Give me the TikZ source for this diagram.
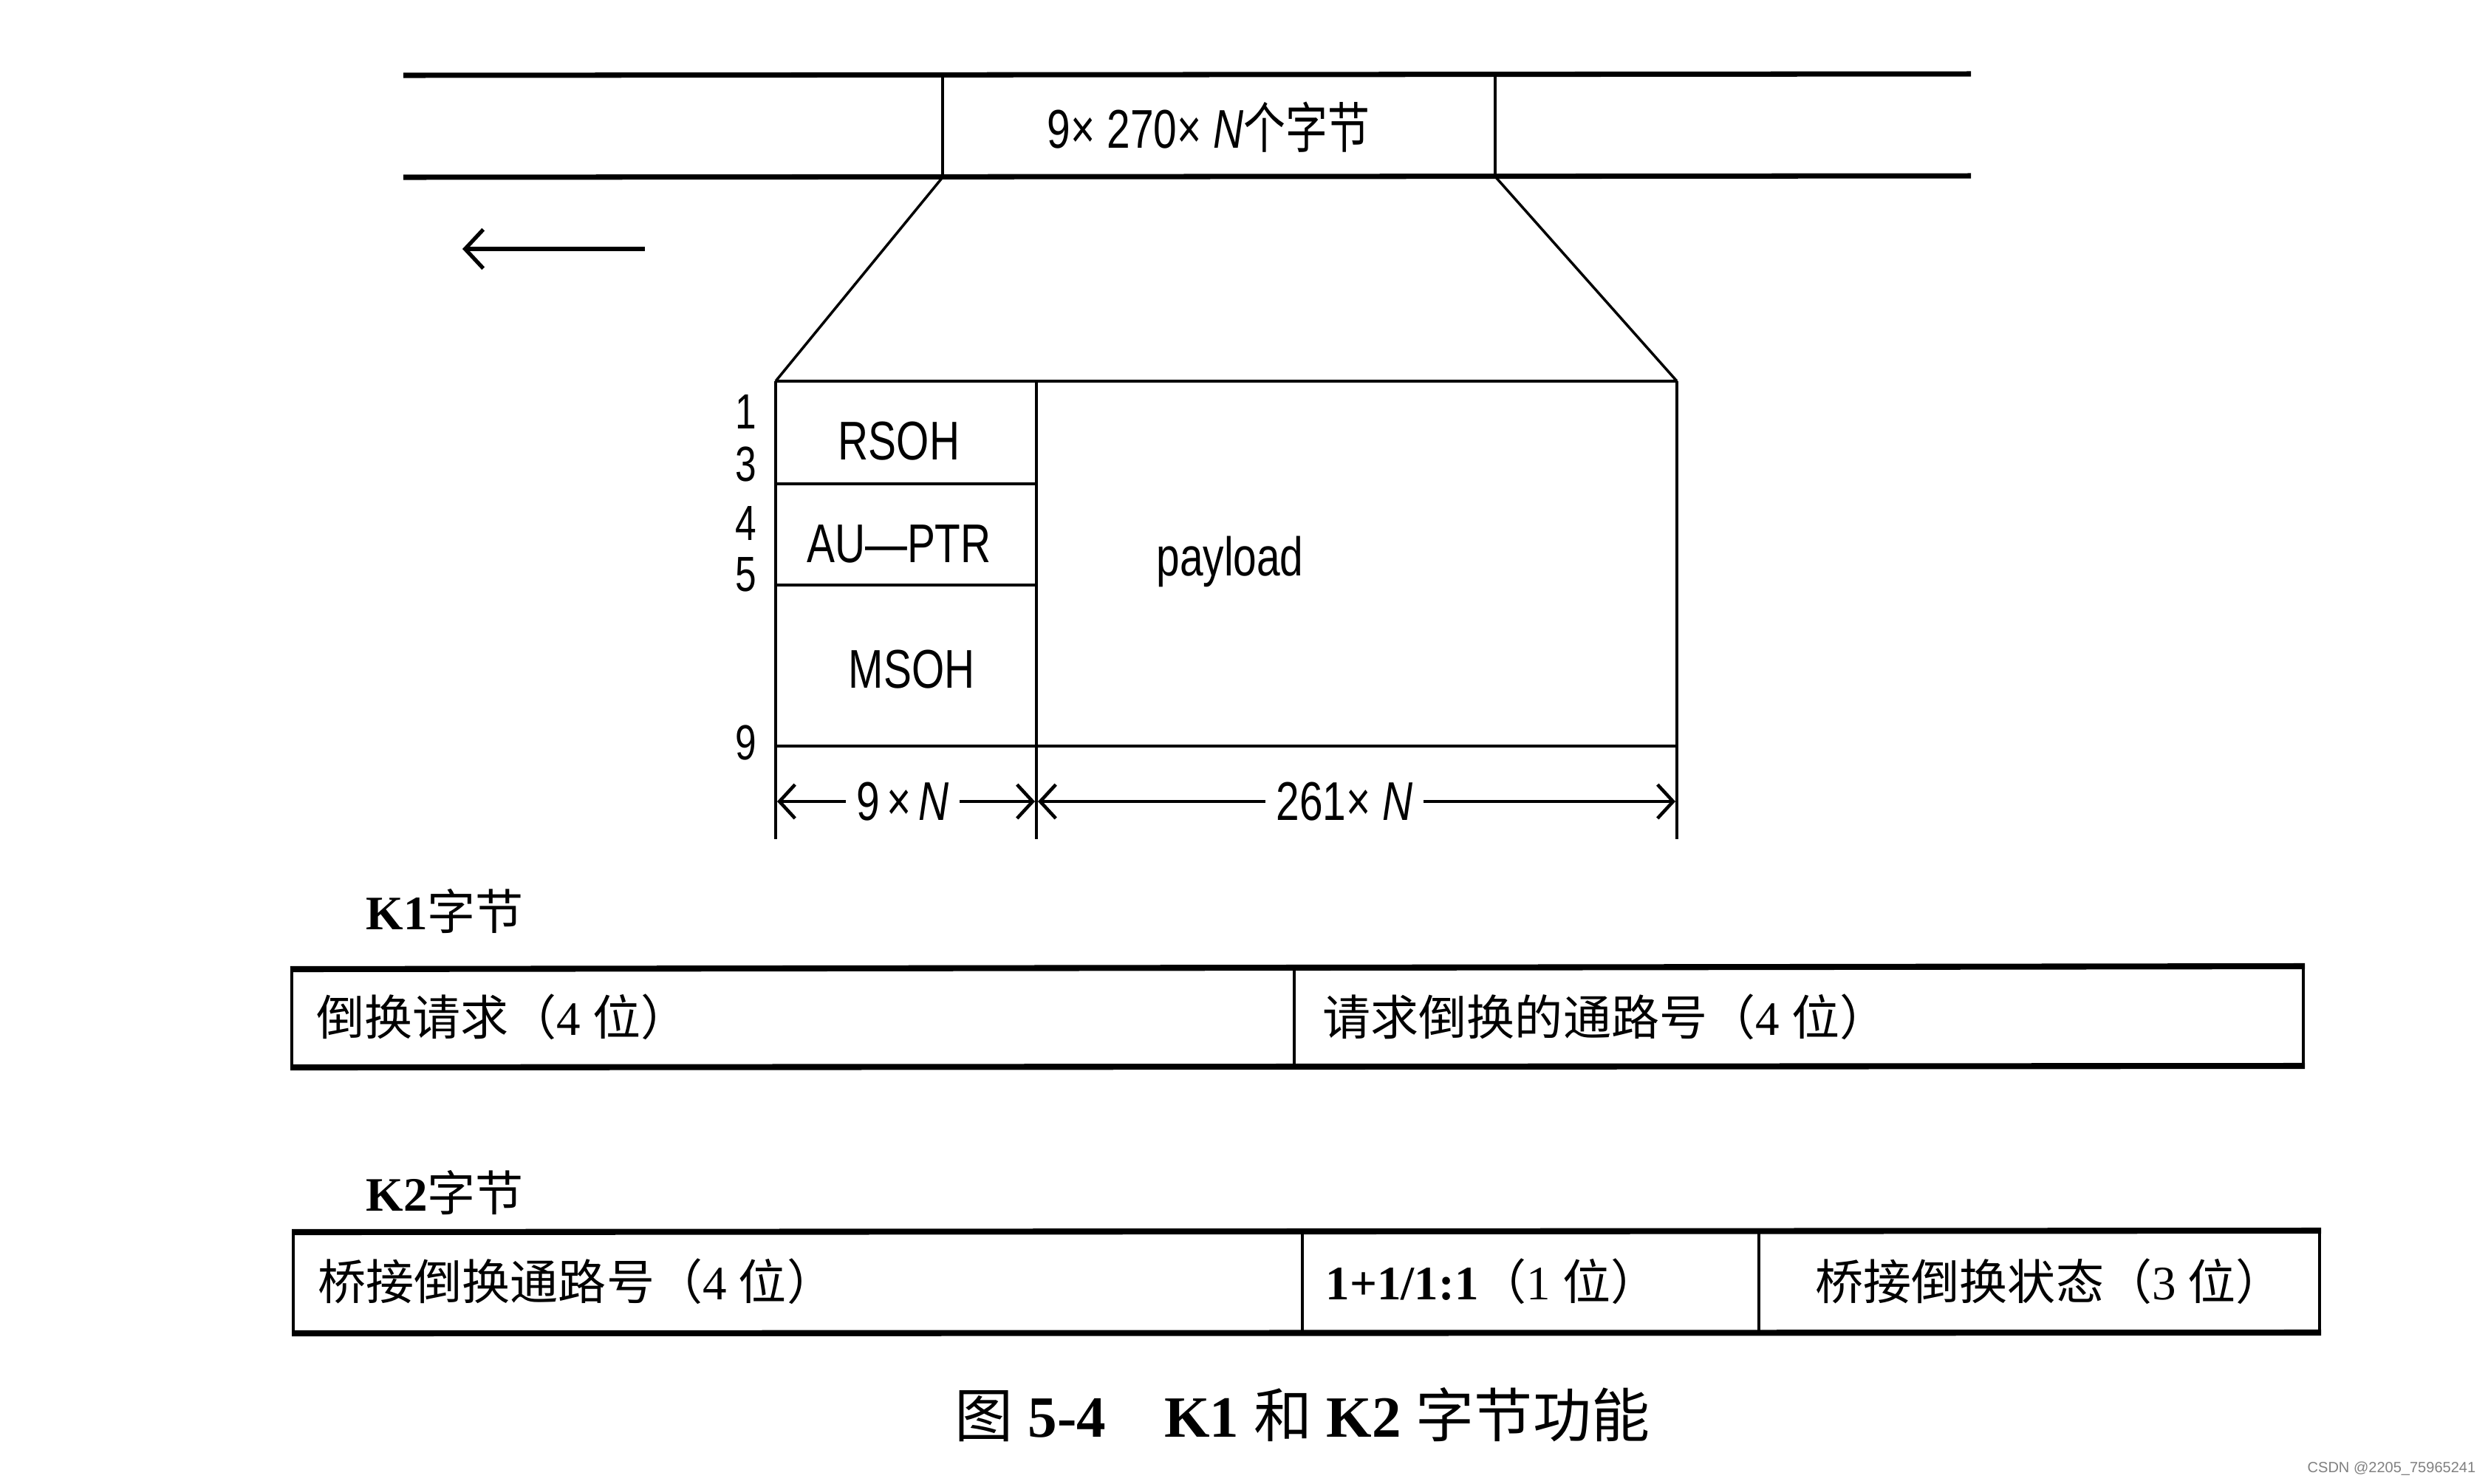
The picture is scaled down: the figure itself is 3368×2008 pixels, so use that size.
\documentclass[tikz,border=0pt]{standalone}
\usepackage{graphicx}
\usepackage{fontspec}
\setmainfont{Liberation Serif}
\setsansfont{Liberation Sans}
\newfontfamily\cjk{Noto Sans CJK SC}
\usetikzlibrary{arrows.meta}
\newcommand{\zhtxt}[1]{{\cjk #1}}
\newcommand{\narrowtxt}[1]{\scalebox{0.77}[1]{#1}}
\begin{document}
\begin{tikzpicture}[x=0.01cm,y=-0.01cm,
  bandline/.style={line width=2pt},
  frameline/.style={line width=1.4pt},
  thinline/.style={line width=1pt},
  kthick/.style={line width=2.3pt},
  kside/.style={line width=1.3pt},
  kdiv/.style={line width=0.9pt},
  sflbl/.style={font=\sffamily\fontsize{21}{25}\selectfont, inner sep=0pt},
  rowlbl/.style={font=\sffamily\fontsize{19}{22}\selectfont, inner sep=0pt},
  zhlbl/.style={font=\fontsize{18.5}{22}\selectfont, anchor=west, inner sep=0pt},
  dimarrow/.style={line width=1.3pt, -{Straight Barb[length=6pt,width=13pt]}},
  flowarrow/.style={line width=1.5pt, -{Straight Barb[length=7pt,width=15pt]}}]
\fill[white] (0,0) rectangle (3368,2008);
\useasboundingbox (0,0) rectangle (3368,2008);

% ---- band at top ----
\draw[bandline] (546,102) -- (2668,100);
\draw[bandline] (546,240) -- (2668,238);
\draw[thinline] (1276,101) -- (1276,240);
\draw[thinline] (2024,101) -- (2024,239);
\node[sflbl] (hdr) at (1636,172) {\narrowtxt{9× 270× \textit{N}\zhtxt{个字节}}};

% direction arrow
\coordinate (arrTail) at (873,337);
\coordinate (arrTip) at (626,337);
\draw[flowarrow] (arrTail) -- (arrTip);

% ---- trapezoid ----
\draw[thinline] (1276,240) -- (1050,516);
\draw[thinline] (2024,239) -- (2270,516);

% ---- frame ----
\draw[frameline] (1050,516) -- (2270,516);
\draw[frameline] (1050,1010) -- (2270,1010);
\draw[frameline] (1050,516) -- (1050,1136);
\draw[frameline] (2270,516) -- (2270,1136);
\draw[thinline] (1403,516) -- (1403,1136);
\draw[frameline] (1050,655) -- (1403,655);
\draw[frameline] (1050,792) -- (1403,792);

\node[sflbl] (rsoh) at (1217,597) {\narrowtxt{RSOH}};
\node[sflbl] (auptr) at (1217,736) {\narrowtxt{AU—PTR}};
\node[sflbl] (msoh) at (1234,906) {\narrowtxt{MSOH}};
\node[sflbl] (payload) at (1665,760) {\narrowtxt{payload}};

\node[rowlbl] (r1) at (1010,558) {\narrowtxt{1}};
\node[rowlbl] (r3) at (1010,628) {\narrowtxt{3}};
\node[rowlbl] (r4) at (1010,708) {\narrowtxt{4}};
\node[rowlbl] (r5) at (1010,778) {\narrowtxt{5}};
\node[rowlbl] (r9) at (1010,1005) {\narrowtxt{9}};

% dimensions
\coordinate (d1L) at (1052,1085);
\coordinate (d1R) at (1401,1085);
\coordinate (d2L) at (1405,1085);
\coordinate (d2R) at (2268,1085);
\node[sflbl, inner xsep=4pt] (dim1) at (1222,1085) {\narrowtxt{9\,×\,\textit{N}}};
\node[sflbl, inner xsep=4pt] (dim2) at (1820,1085) {\narrowtxt{261× \textit{N}}};
\draw[dimarrow] (dim1.west) -- (d1L);
\draw[dimarrow] (dim1.east) -- (d1R);
\draw[dimarrow] (dim2.west) -- (d2L);
\draw[dimarrow] (dim2.east) -- (d2R);

% ---- K1 ----
\node[zhlbl] (k1title) at (495,1233) {\textbf{K1}\zhtxt{字节}};
\draw[kthick] (393,1312) -- (3120,1308);
\draw[kthick] (393,1445) -- (3120,1443);
\draw[kside] (395,1310) -- (395,1445);
\draw[kside] (3118,1308) -- (3118,1443);
\draw[kdiv] (1752,1310) -- (1752,1444);
\node[zhlbl] (k1a) at (428,1377) {\zhtxt{倒换请求（}4 \zhtxt{位）}};
\node[zhlbl] (k1b) at (1790,1377) {\zhtxt{请求倒换的通路号（}4 \zhtxt{位）}};

% ---- K2 ----
\node[zhlbl] (k2title) at (495,1614) {\textbf{K2}\zhtxt{字节}};
\draw[kthick] (395,1668) -- (3142,1666);
\draw[kthick] (395,1805) -- (3142,1804);
\draw[kside] (397,1668) -- (397,1805);
\draw[kside] (3140,1666) -- (3140,1804);
\draw[kdiv] (1763,1668) -- (1763,1805);
\draw[kdiv] (2381,1667) -- (2381,1804);
\node[zhlbl] (k2a) at (430,1735) {\zhtxt{桥接倒换通路号（}4 \zhtxt{位）}};
\node[zhlbl] (k2b) at (1794,1735) {\textbf{1+1/1:1}\zhtxt{（}1 \zhtxt{位）}};
\node[zhlbl] (k2c) at (2457,1735) {\zhtxt{桥接倒换状态（}3 \zhtxt{位）}};

% ---- caption ----
\node[font=\fontsize{22.5}{26}\selectfont, inner sep=0pt] (caption) at (1763,1915)
  {\zhtxt{图} \textbf{5-4}\hspace{1em}\textbf{K1} \zhtxt{和} \textbf{K2} \zhtxt{字节功能}};

% watermark
\node[font=\sffamily\fontsize{5.7}{7}\selectfont, text=gray, anchor=east, inner sep=0pt] (wm) at (3352,1988) {CSDN @2205\_75965241};
\end{tikzpicture}
\end{document}
